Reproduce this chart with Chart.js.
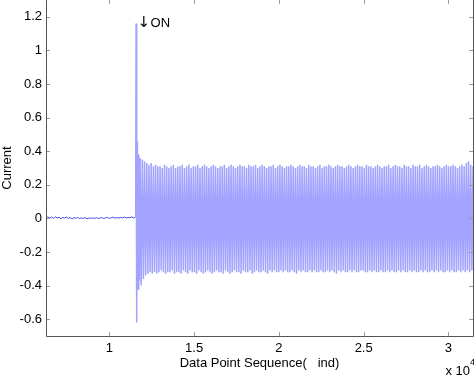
<!DOCTYPE html>
<html>
<head>
<meta charset="utf-8">
<script src="https://cdn.jsdelivr.net/npm/chart.js@4.4.0/dist/chart.umd.min.js"></script>
<style>
  html, body { margin: 0; padding: 0; background: #fff; }
  #wrap { width: 474px; height: 376px; }
</style>
</head>
<body>
<div id="wrap"><canvas id="currentChart"></canvas></div>
<script>
// Values. x = data point index, y = current
const xMin = 6260;
const xMax = 31450;

// idle noise before the switch
const idleStart = 6260;
const idleStep = 110;
const idleValues = [
    0.004, 0.009, 0.002, 0.008, 0.001, 0.010, 0.003, 0.007, -0.002, 0.006,
    0.002, 0.009, 0.000, 0.005, -0.003, 0.004, 0.001, 0.006, -0.001, 0.003,
    0.000, 0.004, -0.002, 0.002, 0.001, 0.003, -0.001, 0.004, 0.000, 0.002,
    0.005, -0.001, 0.003, 0.006, 0.000, 0.004, 0.007, 0.001, 0.005, 0.002,
    0.006, 0.003, 0.008, 0.002, 0.006, 0.004, 0.009, 0.003, 0.007
];

// switching transient
const transientX = [11550, 11575, 11610, 11650, 11690, 11730, 11770, 11810];
const transientValues = [0.01, 1.16, -0.62, 0.46, -0.42, 0.38, -0.37, 0.36];

// steady oscillation after switch on: peak / trough of each cycle
const peaks = [
    0.35, 0.34, 0.33, 0.32, 0.33, 0.31, 0.32, 0.31, 0.31, 0.30, 0.32, 0.31, 0.30, 0.31, 0.32, 0.30, 0.31, 0.31, 0.32, 0.30,
    0.31, 0.32, 0.30, 0.31, 0.31, 0.32, 0.30, 0.31, 0.32, 0.31, 0.30, 0.31, 0.32, 0.31, 0.30, 0.31, 0.31, 0.32, 0.30, 0.31,
    0.32, 0.31, 0.30, 0.31, 0.32, 0.31, 0.31, 0.30, 0.32, 0.31, 0.31, 0.32, 0.30, 0.31, 0.32, 0.31, 0.30, 0.31, 0.31, 0.32,
    0.30, 0.31, 0.32, 0.31, 0.30, 0.31, 0.31, 0.32, 0.31, 0.30, 0.31, 0.32, 0.31, 0.31, 0.30, 0.32, 0.31, 0.31, 0.30, 0.31,
    0.32, 0.30, 0.31, 0.31, 0.32, 0.31, 0.30, 0.31, 0.32, 0.31, 0.31, 0.30, 0.31, 0.32, 0.31, 0.30, 0.31, 0.32, 0.31, 0.31,
    0.30, 0.32, 0.31, 0.31, 0.30, 0.31, 0.32, 0.31, 0.30, 0.31, 0.31, 0.32, 0.30, 0.31, 0.32, 0.31, 0.31, 0.30, 0.32, 0.31,
    0.31, 0.30, 0.32, 0.31, 0.31, 0.32, 0.30, 0.31, 0.32, 0.31, 0.30, 0.31, 0.31, 0.32, 0.31, 0.30, 0.31, 0.32, 0.31, 0.31,
    0.32, 0.31, 0.30, 0.31, 0.32, 0.31, 0.33, 0.34, 0.32, 0.31
];
const troughs = [
    -0.40, -0.36, -0.34, -0.33, -0.32, -0.33, -0.32, -0.33, -0.32, -0.31, -0.32, -0.33, -0.32, -0.32, -0.31, -0.33, -0.32, -0.32, -0.33, -0.31,
    -0.32, -0.33, -0.31, -0.32, -0.32, -0.33, -0.31, -0.32, -0.33, -0.32, -0.31, -0.32, -0.33, -0.32, -0.31, -0.32, -0.32, -0.33, -0.31, -0.32,
    -0.33, -0.32, -0.31, -0.32, -0.32, -0.33, -0.31, -0.32, -0.32, -0.31, -0.33, -0.32, -0.31, -0.32, -0.32, -0.31, -0.32, -0.33, -0.31, -0.32,
    -0.31, -0.32, -0.32, -0.31, -0.32, -0.31, -0.32, -0.32, -0.31, -0.32, -0.33, -0.31, -0.32, -0.31, -0.32, -0.32, -0.31, -0.32, -0.31, -0.32,
    -0.32, -0.31, -0.32, -0.32, -0.31, -0.32, -0.31, -0.32, -0.33, -0.31, -0.32, -0.31, -0.32, -0.32, -0.31, -0.32, -0.31, -0.32, -0.32, -0.31,
    -0.31, -0.32, -0.32, -0.31, -0.32, -0.31, -0.32, -0.32, -0.31, -0.32, -0.32, -0.31, -0.32, -0.31, -0.32, -0.32, -0.31, -0.32, -0.31, -0.32,
    -0.32, -0.31, -0.32, -0.31, -0.32, -0.32, -0.31, -0.32, -0.31, -0.32, -0.32, -0.31, -0.32, -0.31, -0.32, -0.31, -0.32, -0.32, -0.31, -0.32,
    -0.31, -0.32, -0.32, -0.31, -0.32, -0.31, -0.32, -0.31, -0.32, -0.31
];

const xTicks = [10000, 15000, 20000, 25000, 30000];
const yTicks = [-0.6, -0.4, -0.2, 0, 0.2, 0.4, 0.6, 0.8, 1, 1.2];
const yMin = -0.7;
const yMax = 1.3;

// annotation anchor (data units)
const onLabelX = 11720;
const onLabelY = 1.16;

const FONT = '"Liberation Sans", Arial, Helvetica, sans-serif';

// build the point lists
const idleData = idleValues.map((v, i) => ({ x: idleStart + i * idleStep, y: v }));

const oscData = transientX.map((x, i) => ({ x: x, y: transientValues[i] }));
const oscStart = transientX[transientX.length - 1];
const halfStep = (xMax - oscStart) / (peaks.length * 2);
peaks.forEach((p, i) => {
    oscData.push({ x: oscStart + (2 * i + 1) * halfStep, y: troughs[i] });
    oscData.push({ x: oscStart + (2 * i + 2) * halfStep, y: p });
});

// MATLAB style box, inward ticks and the text annotations
const axesBox = {
    id: 'axesBox',
    afterDraw(chart) {
        const { ctx, chartArea: a, scales: { x, y } } = chart;
        ctx.save();

        ctx.strokeStyle = '#9a9a9a';
        ctx.lineWidth = 1;
        ctx.beginPath();
        xTicks.forEach(v => {
            const px = Math.round(x.getPixelForValue(v)) + 0.5;
            ctx.moveTo(px, a.bottom);
            ctx.lineTo(px, a.bottom - 4);
            ctx.moveTo(px, a.top);
            ctx.lineTo(px, a.top + 4);
        });
        yTicks.forEach(v => {
            const py = Math.round(y.getPixelForValue(v)) + 0.5;
            ctx.moveTo(a.left, py);
            ctx.lineTo(a.left + 4, py);
            ctx.moveTo(a.right, py);
            ctx.lineTo(a.right - 4, py);
        });
        ctx.stroke();

        ctx.strokeStyle = '#555';
        ctx.beginPath();
        ctx.moveTo(a.left + 0.5, a.top);
        ctx.lineTo(a.left + 0.5, a.bottom + 0.5);
        ctx.lineTo(a.right + 0.5, a.bottom + 0.5);
        ctx.lineTo(a.right + 0.5, a.top);
        ctx.stroke();

        // "ON" marker
        const ax = x.getPixelForValue(onLabelX);
        const ay = y.getPixelForValue(onLabelY);
        ctx.fillStyle = '#000';
        ctx.textBaseline = 'middle';
        ctx.textAlign = 'left';
        ctx.font = '15px "DejaVu Sans", sans-serif';
        ctx.fillText('\u2193', ax - 1, ay);
        ctx.font = '13px ' + FONT;
        ctx.fillText('ON', ax + 12, ay);

        // x axis exponent
        ctx.textAlign = 'right';
        ctx.fillText('x 10', a.right - 3, a.bottom + 35);
        ctx.font = '9px ' + FONT;
        ctx.textAlign = 'left';
        ctx.fillText('4', a.right - 3, a.bottom + 27);

        ctx.restore();
    }
};

const ctx = document.getElementById('currentChart').getContext('2d');
const currentChart = new Chart(ctx, {
    type: 'line',
    data: {
        datasets: [
            {
                label: 'idle',
                data: idleData,
                borderColor: '#4a4ae0',
                borderWidth: 1,
                pointRadius: 0,
                tension: 0
            },
            {
                label: 'on',
                data: oscData,
                borderColor: '#a2a2ff',
                borderWidth: 1.5,
                pointRadius: 0,
                tension: 0
            }
        ]
    },
    options: {
        responsive: true,
        maintainAspectRatio: false,
        animation: false,
        layout: { padding: { top: 0, right: 1, bottom: 0, left: 0 } },
        plugins: {
            legend: { display: false },
            tooltip: { enabled: false }
        },
        scales: {
            x: {
                type: 'linear',
                min: xMin,
                max: xMax,
                afterBuildTicks: s => { s.ticks = xTicks.map(v => ({ value: v })); },
                afterFit: s => { s.height = 40; s.paddingLeft = 0; s.paddingRight = 0; },
                grid: { display: false, drawTicks: false },
                border: { display: false },
                ticks: {
                    autoSkip: false,
                    maxRotation: 0,
                    padding: 5,
                    color: '#000',
                    font: { family: FONT, size: 13 },
                    callback: v => String(v / 10000)
                },
                title: {
                    display: true,
                    text: 'Data Point Sequence(   ind)',
                    color: '#000',
                    font: { family: FONT, size: 13 },
                    padding: { top: 0, bottom: 5 }
                }
            },
            y: {
                type: 'linear',
                min: yMin,
                max: yMax,
                afterBuildTicks: s => { s.ticks = yTicks.map(v => ({ value: v })); },
                afterFit: s => { s.width = 46; s.paddingTop = 0; s.paddingBottom = 0; },
                grid: { display: false, drawTicks: false },
                border: { display: false },
                ticks: {
                    padding: 4,
                    color: '#000',
                    font: { family: FONT, size: 13 },
                    callback: v => String(Math.round(v * 10) / 10)
                },
                title: {
                    display: true,
                    text: 'Current',
                    color: '#000',
                    font: { family: FONT, size: 13 },
                    padding: 0
                }
            }
        }
    },
    plugins: [axesBox]
});
</script>
</body>
</html>
